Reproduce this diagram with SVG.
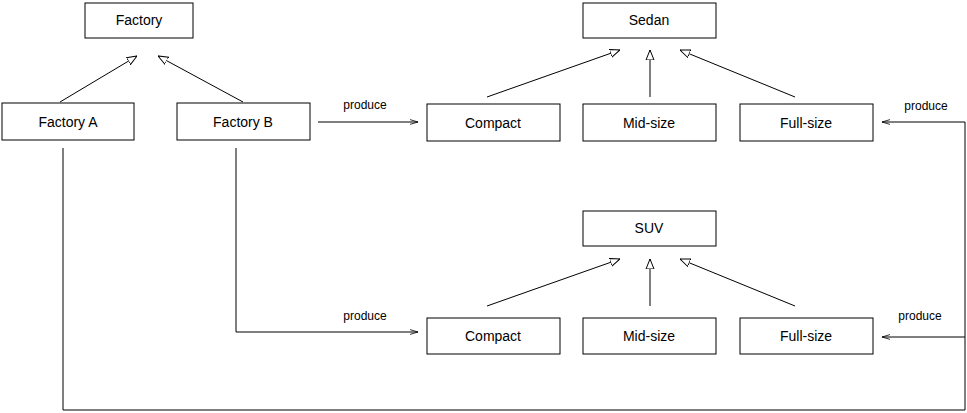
<svg xmlns="http://www.w3.org/2000/svg" width="967" height="413" viewBox="0 0 967 413">
<style>
rect{fill:#fff;stroke:#000;stroke-width:1}
text{font-family:"Liberation Sans",Arial,sans-serif;font-size:14px;text-anchor:middle;fill:#000}
.l{font-size:12px}
.c{fill:none;stroke:#000;stroke-width:1}
</style>
<defs>
<marker id="tri" viewBox="0 0 10 10" refX="10" refY="5" markerWidth="10" markerHeight="10" orient="auto" markerUnits="userSpaceOnUse"><path d="M0,1 L10,5 L0,9 Z" fill="#fff" stroke="#000"/></marker>
<marker id="op" viewBox="0 0 10 10" refX="10" refY="5" markerWidth="8" markerHeight="8" orient="auto" markerUnits="userSpaceOnUse"><path d="M0,2 L10,5 L0,8" fill="none" stroke="#000"/></marker>
</defs>
<g id="connectors">
<path class="c" d="M60,102 L137,56" marker-end="url(#tri)"/>
<path class="c" d="M243,102 L158,56" marker-end="url(#tri)"/>
<path class="c" d="M487,97 L620,50" marker-end="url(#tri)"/>
<path class="c" d="M650,97 L650,50" marker-end="url(#tri)"/>
<path class="c" d="M795,97 L680,50" marker-end="url(#tri)"/>
<path class="c" d="M487,306 L620,259" marker-end="url(#tri)"/>
<path class="c" d="M650,306 L650,259" marker-end="url(#tri)"/>
<path class="c" d="M795,306 L680,259" marker-end="url(#tri)"/>
<path class="c" d="M318,122 L418,122" marker-end="url(#op)"/>
<path class="c" d="M236,148 L236,332 L418,332" marker-end="url(#op)"/>
<path class="c" d="M63,148 L63,410 L965,410 L965,122 L882,122" marker-end="url(#op)"/>
<path class="c" d="M965,337 L882,337" marker-end="url(#op)"/>
<text class="l" x="365" y="109">produce</text>
<text class="l" x="365" y="320">produce</text>
<text class="l" x="926" y="110">produce</text>
<text class="l" x="920" y="320">produce</text>
</g>
<g id="factory"><rect x="85" y="3" width="108" height="35"/><text x="139" y="25">Factory</text></g>
<g id="factoryA"><rect x="2" y="103" width="132" height="37"/><text x="68" y="127">Factory A</text></g>
<g id="factoryB"><rect x="177" y="103" width="133" height="37"/><text x="243" y="127">Factory B</text></g>
<g id="sedan"><rect x="583" y="3" width="133" height="35"/><text x="649" y="25">Sedan</text></g>
<g id="sedanCompact"><rect x="427" y="104" width="133" height="37"/><text x="493" y="128">Compact</text></g>
<g id="sedanMid"><rect x="583" y="104" width="133" height="37"/><text x="649" y="128">Mid-size</text></g>
<g id="sedanFull"><rect x="740" y="104" width="133" height="37"/><text x="806" y="128">Full-size</text></g>
<g id="suv"><rect x="583" y="211" width="133" height="35"/><text x="649" y="233">SUV</text></g>
<g id="suvCompact"><rect x="427" y="318" width="133" height="36"/><text x="493" y="341">Compact</text></g>
<g id="suvMid"><rect x="583" y="318" width="133" height="36"/><text x="649" y="341">Mid-size</text></g>
<g id="suvFull"><rect x="740" y="318" width="133" height="36"/><text x="806" y="341">Full-size</text></g>
</svg>
